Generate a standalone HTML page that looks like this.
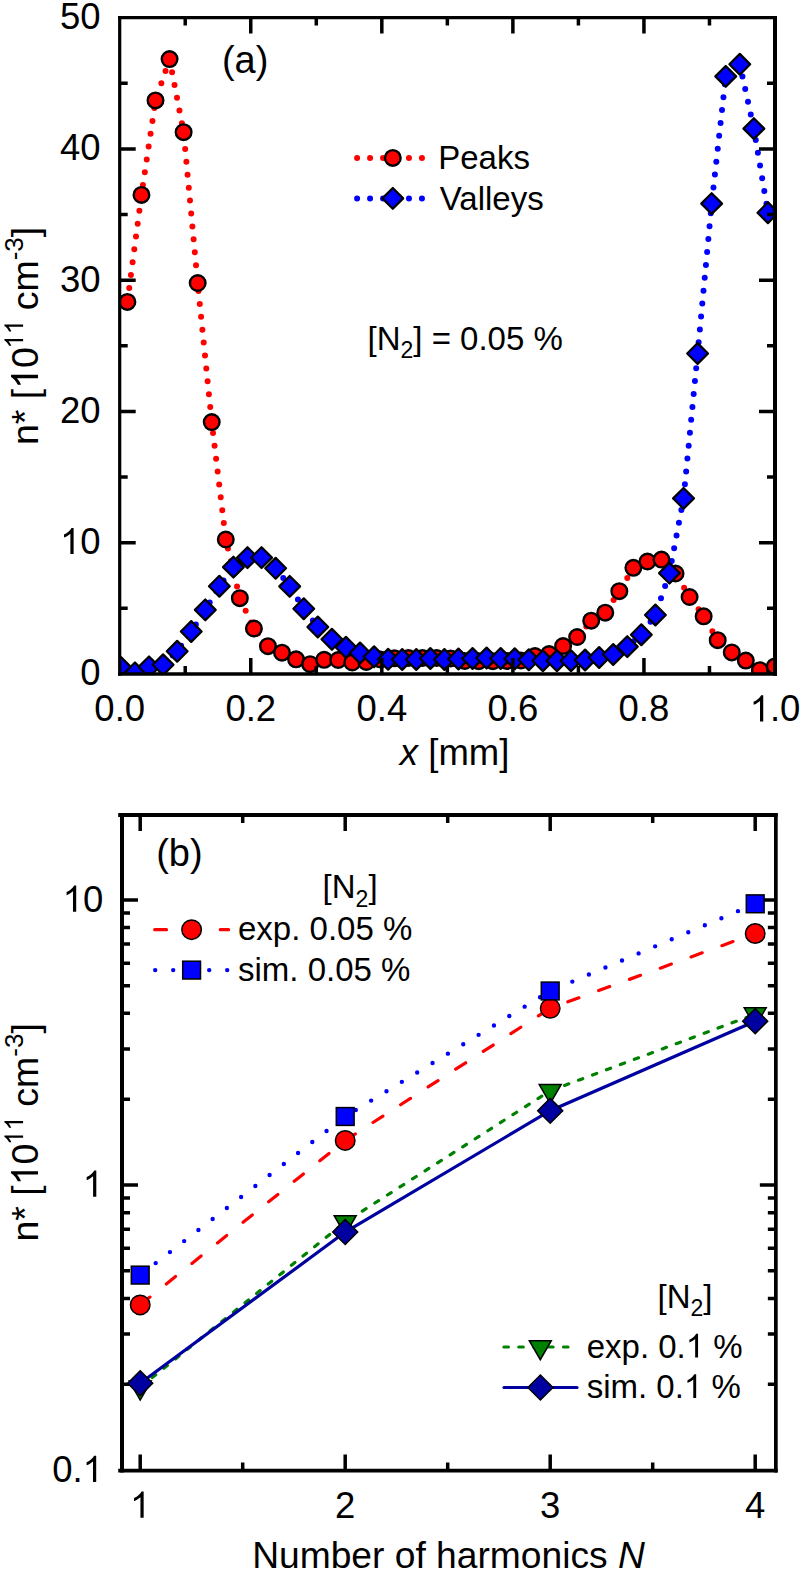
<!DOCTYPE html>
<html><head><meta charset="utf-8"><title>n* plots</title><style>html,body{margin:0;padding:0;background:#fff;overflow:hidden}svg{display:block}text{font-family:"Liberation Sans",sans-serif;fill:#000;white-space:pre}</style></head><body>
<svg width="804" height="1573" viewBox="0 0 804 1573">
<rect x="0" y="0" width="804" height="1573" fill="#fff"/>
<defs>
<clipPath id="ca"><rect x="119.7" y="17.6" width="655.30" height="656.40"/></clipPath>
<clipPath id="cb"><rect x="122.0" y="815.0" width="653.85" height="655.60"/></clipPath>
</defs>
<g clip-path="url(#ca)">
<path d="M127.40,301.90 L141.46,194.90 L155.51,100.40 L169.56,59.10 L183.62,132.20 L197.68,283.00 L211.73,422.10 L225.78,539.50 L239.84,598.20 L253.90,628.50 L267.95,646.20 L282.00,652.70 L296.06,659.30 L310.12,664.20 L324.17,659.80 L338.23,660.00 L352.28,662.50 L366.34,662.00 L380.39,659.50 L394.45,658.30 L408.50,658.00 L422.55,658.00 L436.61,658.00 L450.66,658.50 L464.72,661.00 L478.77,661.20 L492.83,661.20 L506.88,661.00 L520.94,660.50 L535.00,656.00 L549.05,654.00 L563.11,646.00 L577.16,637.00 L591.22,620.70 L605.27,612.70 L619.33,591.20 L633.38,567.80 L647.43,561.50 L661.49,559.60 L675.54,573.50 L689.60,597.00 L703.65,616.30 L717.71,640.20 L731.76,652.40 L745.82,660.60 L759.88,670.20 L774.80,666.40" stroke="#ff0000" stroke-width="6" stroke-linecap="round" stroke-dasharray="0 12.97" fill="none" stroke-dashoffset="-1.1" stroke-linejoin="round"/>
<path d="M120.90,667.40 L134.97,672.90 L149.03,666.90 L163.10,664.80 L177.16,651.30 L191.23,631.50 L205.30,609.90 L219.36,586.20 L233.43,567.10 L247.49,557.60 L261.56,557.60 L275.63,568.30 L289.69,586.40 L303.76,608.70 L317.82,627.00 L331.89,639.30 L345.96,647.30 L360.02,653.00 L374.09,656.80 L388.15,659.30 L402.22,659.50 L416.29,659.50 L430.35,658.50 L444.42,659.50 L458.48,659.00 L472.55,658.50 L486.62,658.00 L500.68,658.50 L514.75,658.80 L528.81,659.80 L542.88,660.70 L556.95,660.70 L571.01,660.70 L585.08,660.00 L599.14,657.50 L613.21,654.50 L627.28,646.60 L641.34,634.70 L655.41,615.00 L669.47,573.10 L683.54,498.40 L697.61,353.50 L711.67,203.60 L725.74,76.40 L739.80,64.30 L753.87,128.60 L767.94,212.70" stroke="#0000ff" stroke-width="6" stroke-linecap="round" stroke-dasharray="0 12.97" fill="none" stroke-dashoffset="-6.1" stroke-linejoin="round"/>
<circle cx="127.40" cy="301.90" r="7.8" fill="#ff0000" stroke="#000" stroke-width="2.4"/>
<circle cx="141.46" cy="194.90" r="7.8" fill="#ff0000" stroke="#000" stroke-width="2.4"/>
<circle cx="155.51" cy="100.40" r="7.8" fill="#ff0000" stroke="#000" stroke-width="2.4"/>
<circle cx="169.56" cy="59.10" r="7.8" fill="#ff0000" stroke="#000" stroke-width="2.4"/>
<circle cx="183.62" cy="132.20" r="7.8" fill="#ff0000" stroke="#000" stroke-width="2.4"/>
<circle cx="197.68" cy="283.00" r="7.8" fill="#ff0000" stroke="#000" stroke-width="2.4"/>
<circle cx="211.73" cy="422.10" r="7.8" fill="#ff0000" stroke="#000" stroke-width="2.4"/>
<circle cx="225.78" cy="539.50" r="7.8" fill="#ff0000" stroke="#000" stroke-width="2.4"/>
<circle cx="239.84" cy="598.20" r="7.8" fill="#ff0000" stroke="#000" stroke-width="2.4"/>
<circle cx="253.90" cy="628.50" r="7.8" fill="#ff0000" stroke="#000" stroke-width="2.4"/>
<circle cx="267.95" cy="646.20" r="7.8" fill="#ff0000" stroke="#000" stroke-width="2.4"/>
<circle cx="282.00" cy="652.70" r="7.8" fill="#ff0000" stroke="#000" stroke-width="2.4"/>
<circle cx="296.06" cy="659.30" r="7.8" fill="#ff0000" stroke="#000" stroke-width="2.4"/>
<circle cx="310.12" cy="664.20" r="7.8" fill="#ff0000" stroke="#000" stroke-width="2.4"/>
<circle cx="324.17" cy="659.80" r="7.8" fill="#ff0000" stroke="#000" stroke-width="2.4"/>
<circle cx="338.23" cy="660.00" r="7.8" fill="#ff0000" stroke="#000" stroke-width="2.4"/>
<circle cx="352.28" cy="662.50" r="7.8" fill="#ff0000" stroke="#000" stroke-width="2.4"/>
<circle cx="366.34" cy="662.00" r="7.8" fill="#ff0000" stroke="#000" stroke-width="2.4"/>
<circle cx="380.39" cy="659.50" r="7.8" fill="#ff0000" stroke="#000" stroke-width="2.4"/>
<circle cx="394.45" cy="658.30" r="7.8" fill="#ff0000" stroke="#000" stroke-width="2.4"/>
<circle cx="408.50" cy="658.00" r="7.8" fill="#ff0000" stroke="#000" stroke-width="2.4"/>
<circle cx="422.55" cy="658.00" r="7.8" fill="#ff0000" stroke="#000" stroke-width="2.4"/>
<circle cx="436.61" cy="658.00" r="7.8" fill="#ff0000" stroke="#000" stroke-width="2.4"/>
<circle cx="450.66" cy="658.50" r="7.8" fill="#ff0000" stroke="#000" stroke-width="2.4"/>
<circle cx="464.72" cy="661.00" r="7.8" fill="#ff0000" stroke="#000" stroke-width="2.4"/>
<circle cx="478.77" cy="661.20" r="7.8" fill="#ff0000" stroke="#000" stroke-width="2.4"/>
<circle cx="492.83" cy="661.20" r="7.8" fill="#ff0000" stroke="#000" stroke-width="2.4"/>
<circle cx="506.88" cy="661.00" r="7.8" fill="#ff0000" stroke="#000" stroke-width="2.4"/>
<circle cx="520.94" cy="660.50" r="7.8" fill="#ff0000" stroke="#000" stroke-width="2.4"/>
<circle cx="535.00" cy="656.00" r="7.8" fill="#ff0000" stroke="#000" stroke-width="2.4"/>
<circle cx="549.05" cy="654.00" r="7.8" fill="#ff0000" stroke="#000" stroke-width="2.4"/>
<circle cx="563.11" cy="646.00" r="7.8" fill="#ff0000" stroke="#000" stroke-width="2.4"/>
<circle cx="577.16" cy="637.00" r="7.8" fill="#ff0000" stroke="#000" stroke-width="2.4"/>
<circle cx="591.22" cy="620.70" r="7.8" fill="#ff0000" stroke="#000" stroke-width="2.4"/>
<circle cx="605.27" cy="612.70" r="7.8" fill="#ff0000" stroke="#000" stroke-width="2.4"/>
<circle cx="619.33" cy="591.20" r="7.8" fill="#ff0000" stroke="#000" stroke-width="2.4"/>
<circle cx="633.38" cy="567.80" r="7.8" fill="#ff0000" stroke="#000" stroke-width="2.4"/>
<circle cx="647.43" cy="561.50" r="7.8" fill="#ff0000" stroke="#000" stroke-width="2.4"/>
<circle cx="661.49" cy="559.60" r="7.8" fill="#ff0000" stroke="#000" stroke-width="2.4"/>
<circle cx="675.54" cy="573.50" r="7.8" fill="#ff0000" stroke="#000" stroke-width="2.4"/>
<circle cx="689.60" cy="597.00" r="7.8" fill="#ff0000" stroke="#000" stroke-width="2.4"/>
<circle cx="703.65" cy="616.30" r="7.8" fill="#ff0000" stroke="#000" stroke-width="2.4"/>
<circle cx="717.71" cy="640.20" r="7.8" fill="#ff0000" stroke="#000" stroke-width="2.4"/>
<circle cx="731.76" cy="652.40" r="7.8" fill="#ff0000" stroke="#000" stroke-width="2.4"/>
<circle cx="745.82" cy="660.60" r="7.8" fill="#ff0000" stroke="#000" stroke-width="2.4"/>
<circle cx="759.88" cy="670.20" r="7.8" fill="#ff0000" stroke="#000" stroke-width="2.4"/>
<circle cx="774.80" cy="666.40" r="7.8" fill="#ff0000" stroke="#000" stroke-width="2.4"/>
<path d="M120.90,657.00L131.30,667.40L120.90,677.80L110.50,667.40Z" fill="#0000ff" stroke="#000" stroke-width="2.2" stroke-linejoin="round"/>
<path d="M134.97,662.50L145.37,672.90L134.97,683.30L124.57,672.90Z" fill="#0000ff" stroke="#000" stroke-width="2.2" stroke-linejoin="round"/>
<path d="M149.03,656.50L159.43,666.90L149.03,677.30L138.63,666.90Z" fill="#0000ff" stroke="#000" stroke-width="2.2" stroke-linejoin="round"/>
<path d="M163.10,654.40L173.50,664.80L163.10,675.20L152.70,664.80Z" fill="#0000ff" stroke="#000" stroke-width="2.2" stroke-linejoin="round"/>
<path d="M177.16,640.90L187.56,651.30L177.16,661.70L166.76,651.30Z" fill="#0000ff" stroke="#000" stroke-width="2.2" stroke-linejoin="round"/>
<path d="M191.23,621.10L201.63,631.50L191.23,641.90L180.83,631.50Z" fill="#0000ff" stroke="#000" stroke-width="2.2" stroke-linejoin="round"/>
<path d="M205.30,599.50L215.70,609.90L205.30,620.30L194.90,609.90Z" fill="#0000ff" stroke="#000" stroke-width="2.2" stroke-linejoin="round"/>
<path d="M219.36,575.80L229.76,586.20L219.36,596.60L208.96,586.20Z" fill="#0000ff" stroke="#000" stroke-width="2.2" stroke-linejoin="round"/>
<path d="M233.43,556.70L243.83,567.10L233.43,577.50L223.03,567.10Z" fill="#0000ff" stroke="#000" stroke-width="2.2" stroke-linejoin="round"/>
<path d="M247.49,547.20L257.89,557.60L247.49,568.00L237.09,557.60Z" fill="#0000ff" stroke="#000" stroke-width="2.2" stroke-linejoin="round"/>
<path d="M261.56,547.20L271.96,557.60L261.56,568.00L251.16,557.60Z" fill="#0000ff" stroke="#000" stroke-width="2.2" stroke-linejoin="round"/>
<path d="M275.63,557.90L286.03,568.30L275.63,578.70L265.23,568.30Z" fill="#0000ff" stroke="#000" stroke-width="2.2" stroke-linejoin="round"/>
<path d="M289.69,576.00L300.09,586.40L289.69,596.80L279.29,586.40Z" fill="#0000ff" stroke="#000" stroke-width="2.2" stroke-linejoin="round"/>
<path d="M303.76,598.30L314.16,608.70L303.76,619.10L293.36,608.70Z" fill="#0000ff" stroke="#000" stroke-width="2.2" stroke-linejoin="round"/>
<path d="M317.82,616.60L328.22,627.00L317.82,637.40L307.42,627.00Z" fill="#0000ff" stroke="#000" stroke-width="2.2" stroke-linejoin="round"/>
<path d="M331.89,628.90L342.29,639.30L331.89,649.70L321.49,639.30Z" fill="#0000ff" stroke="#000" stroke-width="2.2" stroke-linejoin="round"/>
<path d="M345.96,636.90L356.36,647.30L345.96,657.70L335.56,647.30Z" fill="#0000ff" stroke="#000" stroke-width="2.2" stroke-linejoin="round"/>
<path d="M360.02,642.60L370.42,653.00L360.02,663.40L349.62,653.00Z" fill="#0000ff" stroke="#000" stroke-width="2.2" stroke-linejoin="round"/>
<path d="M374.09,646.40L384.49,656.80L374.09,667.20L363.69,656.80Z" fill="#0000ff" stroke="#000" stroke-width="2.2" stroke-linejoin="round"/>
<path d="M388.15,648.90L398.55,659.30L388.15,669.70L377.75,659.30Z" fill="#0000ff" stroke="#000" stroke-width="2.2" stroke-linejoin="round"/>
<path d="M402.22,649.10L412.62,659.50L402.22,669.90L391.82,659.50Z" fill="#0000ff" stroke="#000" stroke-width="2.2" stroke-linejoin="round"/>
<path d="M416.29,649.10L426.69,659.50L416.29,669.90L405.89,659.50Z" fill="#0000ff" stroke="#000" stroke-width="2.2" stroke-linejoin="round"/>
<path d="M430.35,648.10L440.75,658.50L430.35,668.90L419.95,658.50Z" fill="#0000ff" stroke="#000" stroke-width="2.2" stroke-linejoin="round"/>
<path d="M444.42,649.10L454.82,659.50L444.42,669.90L434.02,659.50Z" fill="#0000ff" stroke="#000" stroke-width="2.2" stroke-linejoin="round"/>
<path d="M458.48,648.60L468.88,659.00L458.48,669.40L448.08,659.00Z" fill="#0000ff" stroke="#000" stroke-width="2.2" stroke-linejoin="round"/>
<path d="M472.55,648.10L482.95,658.50L472.55,668.90L462.15,658.50Z" fill="#0000ff" stroke="#000" stroke-width="2.2" stroke-linejoin="round"/>
<path d="M486.62,647.60L497.02,658.00L486.62,668.40L476.22,658.00Z" fill="#0000ff" stroke="#000" stroke-width="2.2" stroke-linejoin="round"/>
<path d="M500.68,648.10L511.08,658.50L500.68,668.90L490.28,658.50Z" fill="#0000ff" stroke="#000" stroke-width="2.2" stroke-linejoin="round"/>
<path d="M514.75,648.40L525.15,658.80L514.75,669.20L504.35,658.80Z" fill="#0000ff" stroke="#000" stroke-width="2.2" stroke-linejoin="round"/>
<path d="M528.81,649.40L539.21,659.80L528.81,670.20L518.41,659.80Z" fill="#0000ff" stroke="#000" stroke-width="2.2" stroke-linejoin="round"/>
<path d="M542.88,650.30L553.28,660.70L542.88,671.10L532.48,660.70Z" fill="#0000ff" stroke="#000" stroke-width="2.2" stroke-linejoin="round"/>
<path d="M556.95,650.30L567.35,660.70L556.95,671.10L546.55,660.70Z" fill="#0000ff" stroke="#000" stroke-width="2.2" stroke-linejoin="round"/>
<path d="M571.01,650.30L581.41,660.70L571.01,671.10L560.61,660.70Z" fill="#0000ff" stroke="#000" stroke-width="2.2" stroke-linejoin="round"/>
<path d="M585.08,649.60L595.48,660.00L585.08,670.40L574.68,660.00Z" fill="#0000ff" stroke="#000" stroke-width="2.2" stroke-linejoin="round"/>
<path d="M599.14,647.10L609.54,657.50L599.14,667.90L588.74,657.50Z" fill="#0000ff" stroke="#000" stroke-width="2.2" stroke-linejoin="round"/>
<path d="M613.21,644.10L623.61,654.50L613.21,664.90L602.81,654.50Z" fill="#0000ff" stroke="#000" stroke-width="2.2" stroke-linejoin="round"/>
<path d="M627.28,636.20L637.68,646.60L627.28,657.00L616.88,646.60Z" fill="#0000ff" stroke="#000" stroke-width="2.2" stroke-linejoin="round"/>
<path d="M641.34,624.30L651.74,634.70L641.34,645.10L630.94,634.70Z" fill="#0000ff" stroke="#000" stroke-width="2.2" stroke-linejoin="round"/>
<path d="M655.41,604.60L665.81,615.00L655.41,625.40L645.01,615.00Z" fill="#0000ff" stroke="#000" stroke-width="2.2" stroke-linejoin="round"/>
<path d="M669.47,562.70L679.87,573.10L669.47,583.50L659.07,573.10Z" fill="#0000ff" stroke="#000" stroke-width="2.2" stroke-linejoin="round"/>
<path d="M683.54,488.00L693.94,498.40L683.54,508.80L673.14,498.40Z" fill="#0000ff" stroke="#000" stroke-width="2.2" stroke-linejoin="round"/>
<path d="M697.61,343.10L708.01,353.50L697.61,363.90L687.21,353.50Z" fill="#0000ff" stroke="#000" stroke-width="2.2" stroke-linejoin="round"/>
<path d="M711.67,193.20L722.07,203.60L711.67,214.00L701.27,203.60Z" fill="#0000ff" stroke="#000" stroke-width="2.2" stroke-linejoin="round"/>
<path d="M725.74,66.00L736.14,76.40L725.74,86.80L715.34,76.40Z" fill="#0000ff" stroke="#000" stroke-width="2.2" stroke-linejoin="round"/>
<path d="M739.80,53.90L750.20,64.30L739.80,74.70L729.40,64.30Z" fill="#0000ff" stroke="#000" stroke-width="2.2" stroke-linejoin="round"/>
<path d="M753.87,118.20L764.27,128.60L753.87,139.00L743.47,128.60Z" fill="#0000ff" stroke="#000" stroke-width="2.2" stroke-linejoin="round"/>
<path d="M767.94,202.30L778.34,212.70L767.94,223.10L757.54,212.70Z" fill="#0000ff" stroke="#000" stroke-width="2.2" stroke-linejoin="round"/>
</g>
<path d="M185.23,674.00v-8.0M185.23,17.60v8.0M250.76,674.00v-16.0M250.76,17.60v16.0M316.29,674.00v-8.0M316.29,17.60v8.0M381.82,674.00v-16.0M381.82,17.60v16.0M447.35,674.00v-8.0M447.35,17.60v8.0M512.88,674.00v-16.0M512.88,17.60v16.0M578.41,674.00v-8.0M578.41,17.60v8.0M643.94,674.00v-16.0M643.94,17.60v16.0M709.47,674.00v-8.0M709.47,17.60v8.0M119.70,608.36h8.0M775.00,608.36h-8.0M119.70,542.72h16.0M775.00,542.72h-16.0M119.70,477.08h8.0M775.00,477.08h-8.0M119.70,411.44h16.0M775.00,411.44h-16.0M119.70,345.80h8.0M775.00,345.80h-8.0M119.70,280.16h16.0M775.00,280.16h-16.0M119.70,214.52h8.0M775.00,214.52h-8.0M119.70,148.88h16.0M775.00,148.88h-16.0M119.70,83.24h8.0M775.00,83.24h-8.0" stroke="#000" stroke-width="3.5" fill="none"/>
<path d="M119.7,16V675.7" stroke="#000" stroke-width="3.2"/><path d="M118.1,17.6H777" stroke="#000" stroke-width="3.2"/><path d="M775,16V675.7" stroke="#000" stroke-width="4"/><path d="M118.1,674H777" stroke="#000" stroke-width="3.4"/>
<text x="80.30" y="685.40" font-size="36.5">0</text>
<path d="M73.60,554.12L70.39,554.12L70.39,533.68Q69.23,534.78 67.34,535.89Q65.47,536.99 63.98,537.55L63.98,534.44Q66.67,533.18 68.68,531.38Q70.69,529.58 71.53,527.89L73.60,527.89Z" fill="#000"/><text x="80.30" y="554.12" font-size="36.5">0</text>
<text x="60.00" y="422.84" font-size="36.5">20</text>
<text x="60.00" y="291.56" font-size="36.5">30</text>
<text x="60.00" y="160.28" font-size="36.5">40</text>
<text x="60.00" y="29.00" font-size="36.5">50</text>
<text x="94.33" y="721.40" font-size="36.5">0.0</text>
<text x="225.39" y="721.40" font-size="36.5">0.2</text>
<text x="356.45" y="721.40" font-size="36.5">0.4</text>
<text x="487.51" y="721.40" font-size="36.5">0.6</text>
<text x="618.57" y="721.40" font-size="36.5">0.8</text>
<path d="M763.23,721.40L760.02,721.40L760.02,700.96Q758.86,702.06 756.97,703.17Q755.10,704.27 753.60,704.83L753.60,701.72Q756.30,700.46 758.31,698.66Q760.32,696.86 761.16,695.17L763.23,695.17Z" fill="#000"/><text x="769.93" y="721.40" font-size="36.5">.0</text>
<text x="454.6" y="764.8" font-size="36.5" text-anchor="middle"><tspan font-style="italic">x</tspan> [mm]</text>
<g transform="translate(38.0,445.1) rotate(-90)"><text x="0.00" y="0.00" font-size="37.5">n* [</text><path d="M70.26,0.00L66.96,0.00L66.96,-21.00Q65.77,-19.87 63.83,-18.73Q61.91,-17.60 60.37,-17.03L60.37,-20.21Q63.13,-21.51 65.20,-23.36Q67.27,-25.21 68.13,-26.95L70.26,-26.95Z" fill="#000"/><text x="77.14" y="0.00" font-size="37.5">0</text><path d="M106.08,-14.90L103.80,-14.90L103.80,-29.46Q102.97,-28.67 101.63,-27.89Q100.30,-27.10 99.23,-26.71L99.23,-28.92Q101.15,-29.82 102.58,-31.10Q104.02,-32.38 104.61,-33.59L106.08,-33.59Z" fill="#000"/><path d="M120.54,-14.90L118.26,-14.90L118.26,-29.46Q117.43,-28.67 116.09,-27.89Q114.76,-27.10 113.69,-26.71L113.69,-28.92Q115.61,-29.82 117.04,-31.10Q118.48,-32.38 119.07,-33.59L120.54,-33.59Z" fill="#000"/><text x="124.42" y="0.00" font-size="37.5"> cm</text><text x="184.82" y="-14.90" font-size="26">-3</text><text x="207.94" y="0.00" font-size="37.5">]</text></g>
<text x="221.9" y="72.9" font-size="38">(a)</text>
<path d="M357.1,157.9H424" stroke="#ff0000" stroke-width="6" stroke-linecap="round" stroke-dasharray="0 12.97" fill="none"/>
<circle cx="392.8" cy="157.9" r="7.8" fill="#ff0000" stroke="#000" stroke-width="2.4"/>
<text x="438.2" y="168.5" font-size="33">Peaks</text>
<path d="M357.1,198.4H424" stroke="#0000ff" stroke-width="6" stroke-linecap="round" stroke-dasharray="0 12.97" fill="none"/>
<path d="M392.80,188.00L403.20,198.40L392.80,208.80L382.40,198.40Z" fill="#0000ff" stroke="#000" stroke-width="2.2" stroke-linejoin="round"/>
<text x="439.8" y="209.5" font-size="33">Valleys</text>
<text x="367.5" y="350" font-size="33">[N<tspan font-size="23" dy="8.4">2</tspan><tspan dy="-8.4">] = 0.05 %</tspan></text>
<path d="M140.20,1470.60v-16.0M140.20,815.00v16.0M345.20,1470.60v-16.0M345.20,815.00v16.0M550.20,1470.60v-16.0M550.20,815.00v16.0M755.20,1470.60v-16.0M755.20,815.00v16.0M242.70,1470.60v-8.0M242.70,815.00v8.0M447.70,1470.60v-8.0M447.70,815.00v8.0M652.70,1470.60v-8.0M652.70,815.00v8.0M122.00,1384.28h8.0M775.85,1384.28h-8.0M122.00,1334.07h8.0M775.85,1334.07h-8.0M122.00,1298.45h8.0M775.85,1298.45h-8.0M122.00,1270.82h8.0M775.85,1270.82h-8.0M122.00,1248.25h8.0M775.85,1248.25h-8.0M122.00,1229.16h8.0M775.85,1229.16h-8.0M122.00,1212.63h8.0M775.85,1212.63h-8.0M122.00,1198.05h8.0M775.85,1198.05h-8.0M122.00,1185.00h16.0M775.85,1185.00h-16.0M122.00,1099.18h8.0M775.85,1099.18h-8.0M122.00,1048.97h8.0M775.85,1048.97h-8.0M122.00,1013.35h8.0M775.85,1013.35h-8.0M122.00,985.72h8.0M775.85,985.72h-8.0M122.00,963.15h8.0M775.85,963.15h-8.0M122.00,944.06h8.0M775.85,944.06h-8.0M122.00,927.53h8.0M775.85,927.53h-8.0M122.00,912.95h8.0M775.85,912.95h-8.0M122.00,899.90h16.0M775.85,899.90h-16.0" stroke="#000" stroke-width="3.5" fill="none"/>
<g clip-path="url(#cb)">
<path d="M140.20,1304.90 L345.20,1140.40 L550.20,1008.30 L755.20,933.50" stroke="#ff0000" stroke-width="3.2" stroke-linecap="round" stroke-dasharray="11.8 21" fill="none" stroke-dashoffset="-0.7"/>
<path d="M140.20,1275.10 L345.20,1116.50 L550.20,991.00 L755.20,903.80" stroke="#0000ff" stroke-width="4.4" stroke-linecap="round" stroke-dasharray="0 18" fill="none" stroke-dashoffset="-1.6"/>
<path d="M140.20,1387.30 L345.20,1222.00 L550.20,1090.80 L755.20,1014.20" stroke="#008000" stroke-width="3.2" stroke-linecap="round" stroke-dasharray="4.5 10.4" fill="none" stroke-dashoffset="-0.55"/>
<path d="M140.20,1383.30 L345.20,1232.00 L550.20,1110.70 L755.20,1021.20" stroke="#0000a0" stroke-width="3.2" fill="none"/>
<circle cx="140.20" cy="1304.90" r="9.75" fill="#ff0000" stroke="#000" stroke-width="1.5"/>
<circle cx="345.20" cy="1140.40" r="9.75" fill="#ff0000" stroke="#000" stroke-width="1.5"/>
<circle cx="550.20" cy="1008.30" r="9.75" fill="#ff0000" stroke="#000" stroke-width="1.5"/>
<circle cx="755.20" cy="933.50" r="9.75" fill="#ff0000" stroke="#000" stroke-width="1.5"/>
<rect x="131.30" y="1266.20" width="17.8" height="17.8" fill="#0000ff" stroke="#000" stroke-width="1.5"/>
<rect x="336.30" y="1107.60" width="17.8" height="17.8" fill="#0000ff" stroke="#000" stroke-width="1.5"/>
<rect x="541.30" y="982.10" width="17.8" height="17.8" fill="#0000ff" stroke="#000" stroke-width="1.5"/>
<rect x="746.30" y="894.90" width="17.8" height="17.8" fill="#0000ff" stroke="#000" stroke-width="1.5"/>
<path d="M129.20,1380.95L151.20,1380.95L140.20,1400.00Z" fill="#008000" stroke="#000" stroke-width="1.5"/>
<path d="M334.20,1215.65L356.20,1215.65L345.20,1234.70Z" fill="#008000" stroke="#000" stroke-width="1.5"/>
<path d="M539.20,1084.45L561.20,1084.45L550.20,1103.50Z" fill="#008000" stroke="#000" stroke-width="1.5"/>
<path d="M744.20,1007.85L766.20,1007.85L755.20,1026.90Z" fill="#008000" stroke="#000" stroke-width="1.5"/>
<path d="M140.20,1370.80L152.70,1383.30L140.20,1395.80L127.70,1383.30Z" fill="#0000a0" stroke="#000" stroke-width="1.5"/>
<path d="M345.20,1219.50L357.70,1232.00L345.20,1244.50L332.70,1232.00Z" fill="#0000a0" stroke="#000" stroke-width="1.5"/>
<path d="M550.20,1098.20L562.70,1110.70L550.20,1123.20L537.70,1110.70Z" fill="#0000a0" stroke="#000" stroke-width="1.5"/>
<path d="M755.20,1008.70L767.70,1021.20L755.20,1033.70L742.70,1021.20Z" fill="#0000a0" stroke="#000" stroke-width="1.5"/>
</g>
<path d="M122,813.1V1472.4" stroke="#000" stroke-width="4"/><path d="M118.2,815H777.7" stroke="#000" stroke-width="3.8"/><path d="M775.85,813.1V1472.4" stroke="#000" stroke-width="3.7"/><path d="M118.2,1470.6H777.7" stroke="#000" stroke-width="3.6"/>
<text x="52.16" y="1481.90" font-size="36.5">0.</text><path d="M96.20,1481.90L92.99,1481.90L92.99,1461.46Q91.83,1462.56 89.94,1463.67Q88.07,1464.77 86.57,1465.33L86.57,1462.22Q89.27,1460.96 91.28,1459.16Q93.29,1457.36 94.13,1455.67L96.20,1455.67Z" fill="#000"/>
<path d="M96.30,1196.80L93.09,1196.80L93.09,1176.36Q91.93,1177.46 90.04,1178.57Q88.17,1179.67 86.67,1180.23L86.67,1177.12Q89.37,1175.86 91.38,1174.06Q93.39,1172.26 94.23,1170.57L96.30,1170.57Z" fill="#000"/>
<path d="M76.20,911.70L72.99,911.70L72.99,891.26Q71.83,892.36 69.94,893.47Q68.07,894.57 66.58,895.13L66.58,892.02Q69.27,890.76 71.28,888.96Q73.29,887.16 74.13,885.47L76.20,885.47Z" fill="#000"/><text x="82.90" y="911.70" font-size="36.5">0</text>
<path d="M143.65,1517.80L140.44,1517.80L140.44,1497.36Q139.28,1498.46 137.39,1499.57Q135.52,1500.67 134.02,1501.23L134.02,1498.12Q136.72,1496.86 138.73,1495.06Q140.74,1493.26 141.58,1491.57L143.65,1491.57Z" fill="#000"/>
<text x="335.05" y="1517.80" font-size="36.5">2</text>
<text x="540.05" y="1517.80" font-size="36.5">3</text>
<text x="745.05" y="1517.80" font-size="36.5">4</text>
<text x="448.5" y="1567.8" font-size="37.2" text-anchor="middle">Number of harmonics <tspan font-style="italic">N</tspan></text>
<g transform="translate(38.0,1241.5) rotate(-90)"><text x="0.00" y="0.00" font-size="37.5">n* [</text><path d="M70.26,0.00L66.96,0.00L66.96,-21.00Q65.77,-19.87 63.83,-18.73Q61.91,-17.60 60.37,-17.03L60.37,-20.21Q63.13,-21.51 65.20,-23.36Q67.27,-25.21 68.13,-26.95L70.26,-26.95Z" fill="#000"/><text x="77.14" y="0.00" font-size="37.5">0</text><path d="M106.08,-14.90L103.80,-14.90L103.80,-29.46Q102.97,-28.67 101.63,-27.89Q100.30,-27.10 99.23,-26.71L99.23,-28.92Q101.15,-29.82 102.58,-31.10Q104.02,-32.38 104.61,-33.59L106.08,-33.59Z" fill="#000"/><path d="M120.54,-14.90L118.26,-14.90L118.26,-29.46Q117.43,-28.67 116.09,-27.89Q114.76,-27.10 113.69,-26.71L113.69,-28.92Q115.61,-29.82 117.04,-31.10Q118.48,-32.38 119.07,-33.59L120.54,-33.59Z" fill="#000"/><text x="124.42" y="0.00" font-size="37.5"> cm</text><text x="184.82" y="-14.90" font-size="26">-3</text><text x="207.94" y="0.00" font-size="37.5">]</text></g>
<text x="156.2" y="865.7" font-size="38">(b)</text>
<text x="322.6" y="898.3" font-size="33">[N<tspan font-size="23" dy="8.4">2</tspan><tspan dy="-8.4">]</tspan></text>
<path d="M154.7,929.7H228.6" stroke="#ff0000" stroke-width="3.2" stroke-linecap="round" stroke-dasharray="11.8 21" fill="none"/>
<circle cx="191.6" cy="929.7" r="9.75" fill="#ff0000" stroke="#000" stroke-width="1.5"/>
<text x="238" y="939.9" font-size="33">exp. 0.05 %</text>
<path d="M155.2,970.1H229" stroke="#0000ff" stroke-width="4.4" stroke-linecap="round" stroke-dasharray="0 18" fill="none"/>
<rect x="182.70" y="961.20" width="17.8" height="17.8" fill="#0000ff" stroke="#000" stroke-width="1.5"/>
<text x="238" y="981" font-size="33">sim. 0.05 %</text>
<text x="657.5" y="1308" font-size="33">[N<tspan font-size="23" dy="8.4">2</tspan><tspan dy="-8.4">]</tspan></text>
<path d="M503.9,1347H578" stroke="#008000" stroke-width="3.2" stroke-linecap="round" stroke-dasharray="4.5 10.4" fill="none"/>
<path d="M529.30,1340.65L551.30,1340.65L540.30,1359.70Z" fill="#008000" stroke="#000" stroke-width="1.5"/>
<text x="586.70" y="1357.50" font-size="33">exp. 0.</text><path d="M698.06,1357.50L695.16,1357.50L695.16,1339.02Q694.11,1340.02 692.40,1341.02Q690.71,1342.02 689.36,1342.51L689.36,1339.71Q691.79,1338.57 693.61,1336.94Q695.43,1335.31 696.19,1333.78L698.06,1333.78Z" fill="#000"/><text x="704.12" y="1357.50" font-size="33"> %</text>
<path d="M504,1387.5H577" stroke="#0000a0" stroke-width="3.2" fill="none" stroke-linecap="round"/>
<path d="M540.40,1375.00L552.90,1387.50L540.40,1400.00L527.90,1387.50Z" fill="#0000a0" stroke="#000" stroke-width="1.5"/>
<text x="586.70" y="1398.00" font-size="33">sim. 0.</text><path d="M696.17,1398.00L693.27,1398.00L693.27,1379.52Q692.23,1380.52 690.52,1381.52Q688.83,1382.52 687.47,1383.01L687.47,1380.21Q689.91,1379.07 691.73,1377.44Q693.55,1375.81 694.30,1374.28L696.17,1374.28Z" fill="#000"/><text x="702.23" y="1398.00" font-size="33"> %</text>
</svg></body></html>
